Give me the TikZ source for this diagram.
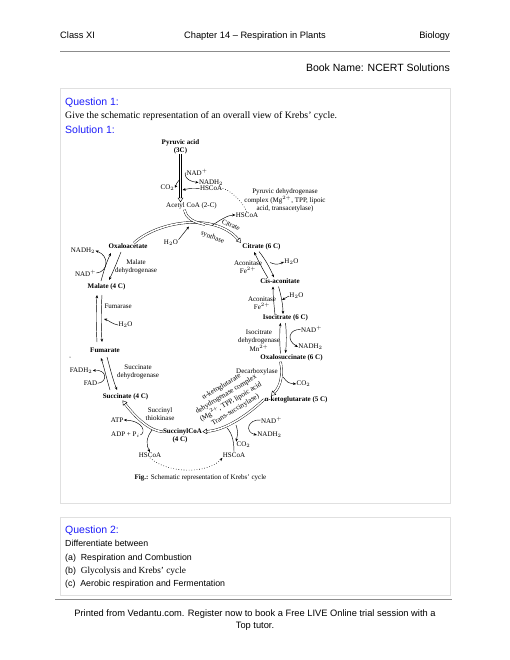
\documentclass[tikz,border=0pt]{standalone}
\usepackage{fontspec}
\setmainfont{Liberation Serif}
\setsansfont{Liberation Sans}
\usetikzlibrary{arrows.meta}
\definecolor{qblue}{RGB}{30,30,250}
\definecolor{boxline}{RGB}{224,224,224}
\definecolor{ruleline}{RGB}{140,140,140}

\begin{document}
\begin{tikzpicture}[x=1pt,y=-1pt,line width=0.45pt,>={Stealth[length=3.2pt,width=2.6pt]},
  lab/.style={inner sep=0.3pt,font=\fontsize{7}{7.8}\selectfont},
  cmp/.style={inner sep=0.3pt,font=\fontsize{7}{7.8}\selectfont\bfseries},
  hol/.style={double,double distance=1.6pt,line width=0.4pt,-{Triangle[open,length=4.5pt,width=5.5pt,line width=0.4pt]}},
  dbl/.style={double,double distance=1.6pt,line width=0.4pt},
  hdr/.style={inner sep=0pt,font=\sffamily\fontsize{9.3}{11}\selectfont},
  qhead/.style={inner sep=0pt,anchor=base west,text=qblue,font=\sffamily\fontsize{10.5}{12}\selectfont},
  qtext/.style={inner sep=0pt,anchor=base west,font=\sffamily\fontsize{8.8}{10}\selectfont}]
  \useasboundingbox[fill=white] (0,0) rectangle (510,660);

  % page header
  \node[hdr,anchor=base west] (cls) at (60,39) {Class XI};
  \node[hdr,anchor=base] (chap) at (255,39) {Chapter 14 -- Respiration in Plants};
  \node[hdr,anchor=base east] (subj) at (450,39) {Biology};
  \draw[ruleline,line width=0.9pt] (60,51.7) -- (450,51.7);
  \node[inner sep=0pt,anchor=base east,font=\sffamily\fontsize{10.5}{12}\selectfont] (book) at (450,71.5) {Book Name: NCERT Solutions};

  % question 1 box
  \draw[boxline,line width=0.8pt] (60.5,88.3) rectangle (450.5,503);
  \node[qhead] (q1) at (65,105.5) {Question 1:};
  \node[inner sep=0pt,anchor=base west,font=\fontsize{9.8}{11}\selectfont] (q1t) at (65,118.8) {Give the schematic representation of an overall view of Krebs' cycle.};
  \node[qhead] (s1) at (65,133.2) {Solution 1:};

  % link reaction
  \node[cmp,align=center] (pyr) at (180.5,146.5) {Pyruvic acid\\(3C)};
  \node[lab] (nad1) at (197,172.5) {NAD$^+$};
  \node[lab,anchor=west] (nadh1) at (198.5,182.5) {NADH$_2$};
  \node[lab,anchor=west] (hs1) at (199.5,188.5) {HSCoA};
  \node[lab] (co1) at (167.5,188) {CO$_2$};
  \node[lab] (acoa) at (191.5,206) {Acetyl CoA (2-C)};
  \node[lab,align=center] (pdh) at (285,200.5) {Pyruvic dehydrogenase\\complex (Mg$^{2+}$, TPP, lipoic\\acid, transacetylase)};
  \node[lab] (hs2) at (247,215) {HSCoA};
  \coordinate (jco) at (180,179);
  \coordinate (jhs) at (182.5,190);
  \draw[hol] (pyr.south) -- (pyr.south |- acoa.north);
  \draw[->] (nad1.west) .. controls (184,172) and (184,181) .. (nadh1.west);
  \draw[->] (hs1.west) .. controls (192,188) .. (jhs);
  \draw[->] (jco) .. controls (177,183) and (175,185) .. (co1.north east);
  \draw[dotted,line width=0.6pt] (hs1.east) .. controls (228,189) and (242,200) .. (hs2.north);

  % cycle compounds
  \node[cmp] (oaa) at (128,246) {Oxaloacetate};
  \node[cmp] (cit) at (261.5,246.5) {Citrate (6 C)};
  \node[cmp] (cis) at (280,281) {Cis-aconitate};
  \node[cmp] (iso) at (285.5,318) {Isocitrate (6 C)};
  \node[cmp] (oxs) at (291.5,358) {Oxalosuccinate (6 C)};
  \node[cmp] (akg) at (296,399.5) {α-ketoglutarate (5 C)};
  \node[cmp] (scoa) at (182.5,431.7) {SuccinylCoA};
  \node[cmp] (scoab) at (180,440) {(4 C)};
  \node[cmp] (suc) at (125.5,396.7) {Succinate (4 C)};
  \node[cmp] (fum) at (105,350.7) {Fumarate};
  \node[cmp] (mal) at (106.5,287.3) {Malate (4 C)};

  % citrate synthase
  \node[lab] (wA) at (171,243) {H$_2$O};
  \node[lab,rotate=-25] (cs1) at (231,225) {Citrate};
  \node[lab,rotate=-20] (cs2) at (212.5,237.5) {synthase};
  \coordinate (jac) at (205,224.5);
  \coordinate (jw) at (189,226.5);
  \coordinate (jcs) at (212,225.5);
  \draw[hol] ([xshift=-14pt]oaa.north east) .. controls (158,221) and (215,212) .. ([xshift=-1pt]cit.north west);
  \draw[dbl] ([xshift=-7pt]acoa.south) .. controls (186,219) and (195,222.5) .. (jac);
  \draw[->] (wA.north east) -- (jw);
  \draw[->] (jcs) .. controls (220,220) and (228,215) .. (hs2.west);

  % malate dehydrogenase
  \node[lab] (nadhB) at (83,250.7) {NADH$_2$};
  \node[lab] (nadB) at (85.5,273) {NAD$^+$};
  \node[lab,align=center] (mdh) at (136,267) {Malate\\dehydrogenase};
  \coordinate (ma1) at (101,281);
  \coordinate (ma2) at (111,253);
  \coordinate (ma3) at (121,252);
  \coordinate (ma4) at (109,280);
  \draw[->] (ma1) .. controls (104,270) and (107,261) .. (ma2);
  \draw[->] (ma3) .. controls (117,262) and (113,272) .. (ma4);
  \draw[->] (nadB.east) .. controls (108,272) and (110,256) .. (nadhB.east);

  % fumarase
  \node[lab,anchor=west] (fumase) at (104,306) {Fumarase};
  \node[lab,anchor=west] (wD) at (118,325) {H$_2$O};
  \coordinate (mf1) at (97,342);
  \coordinate (mf2) at (97,295);
  \coordinate (mf3) at (102,295);
  \coordinate (mf4) at (102,342);
  \coordinate (jw2) at (104,319);
  \draw[->] (mf1) .. controls (96,325) and (96,310) .. (mf2);
  \draw[->] (mf3) .. controls (101,310) and (101,325) .. (mf4);
  \draw[->] (wD.west) .. controls (112,324) and (108,320) .. (jw2);
  \fill (70,357) circle (0.5);

  % succinate dehydrogenase
  \node[lab] (fadh) at (81,370.7) {FADH$_2$};
  \node[lab] (fad) at (90.5,383.3) {FAD};
  \node[lab,align=center] (sdh) at (138,372) {Succinate\\dehydrogenase};
  \coordinate (fs1) at (110,390);
  \coordinate (fs2) at (101,358);
  \coordinate (fs3) at (107,357);
  \coordinate (fs4) at (117,390);
  \draw[->] (fs1) .. controls (107,380) and (104,367) .. (fs2);
  \draw[->] (fs3) .. controls (110,368) and (113,380) .. (fs4);
  \draw[->] (fad.east) .. controls (108,382) and (107,369) .. (fadh.east);

  % succinyl thiokinase
  \node[lab] (atp) at (117,420) {ATP};
  \node[lab] (adp) at (125.5,435) {ADP + P$_i$};
  \node[lab,align=center] (stk) at (160,414) {Succinyl\\thiokinase};
  \node[lab] (hsE) at (150,455) {HSCoA};
  \coordinate (jsh) at (152,430);
  \draw[hol] (scoa.west) .. controls (150,431) and (136,418) .. ([xshift=-3pt]suc.south);
  \draw[->] (adp.east) .. controls (146,433) and (144,421) .. (atp.east);
  \draw[->] (jsh) .. controls (146,438) and (146,445) .. (hsE.north);

  % alpha-ketoglutarate dehydrogenase
  \node[lab,rotate=31,align=center,font=\fontsize{7.2}{9}\selectfont] (akgdh) at (228.5,398.4) {α-ketoglutarate\\dehydrogenase complex\\(Mg$^{2+}$, TPP, lipoic acid\\Trans-succinylase)};
  \node[lab] (nadD) at (271.5,420) {NAD$^+$};
  \node[lab] (nadhD) at (269.5,435) {NADH$_2$};
  \node[lab] (coC) at (243.5,445) {CO$_2$};
  \node[lab] (hsD) at (234,455) {HSCoA};
  \coordinate (jco2) at (236,425);
  \coordinate (jhs2) at (227,428);
  \draw[hol] (akg.west) .. controls (252,411) and (228,430) .. (scoa.east);
  \draw[->] (nadD.west) .. controls (248,419) and (244,432) .. (nadhD.west);
  \draw[->] (jco2) .. controls (238,432) .. (coC.north west);
  \draw (jhs2) .. controls (233,434) and (234,444) .. (hsD.north);
  \draw[dotted,line width=0.6pt,->] (hsE.south) .. controls (168,474) and (208,474) .. (hsD.south west);

  % aconitase and isocitrate dehydrogenase
  \node[lab,align=center] (aco1) at (248,267.5) {Aconitase\\Fe$^{2+}$};
  \node[lab] (wB) at (291.5,262) {H$_2$O};
  \node[lab,align=center] (aco2) at (262,303.5) {Aconitase\\Fe$^{2+}$};
  \node[lab] (wC) at (296.5,296) {H$_2$O};
  \node[lab] (nadC) at (311.5,329.5) {NAD$^+$};
  \node[lab] (nadhC) at (310.5,347) {NADH$_2$};
  \node[lab,align=center] (idh) at (259,341) {Isocitrate\\dehydrogenase\\Mn$^{2+}$};
  \node[lab] (dcx) at (257,371.5) {Decarboxylase};
  \node[lab] (coB) at (303.5,384) {CO$_2$};
  \coordinate (cc1) at (268,278);
  \coordinate (cc2) at (254,252);
  \coordinate (cc3) at (259,251.5);
  \coordinate (cc4) at (274,277.5);
  \coordinate (jw3) at (270,262.5);
  \coordinate (ci1) at (275,315);
  \coordinate (ci2) at (273,286.5);
  \coordinate (ci3) at (278.5,286.5);
  \coordinate (ci4) at (283,314);
  \coordinate (jw4) at (282,300);
  \coordinate (io1) at (280.5,353.5);
  \coordinate (io2) at (280.5,323);
  \coordinate (io3) at (285.5,323);
  \coordinate (io4) at (285.5,353);
  \coordinate (jco3) at (283,377);
  \draw[->] (cc1) .. controls (263,270) and (258,260) .. (cc2);
  \draw[->] (cc3) .. controls (265,259) and (270,268) .. (cc4);
  \draw[->] (jw3) .. controls (278,266) and (281,263) .. (wB.west);
  \draw[->] (ci1) .. controls (274,305) and (273,295) .. (ci2);
  \draw[->] (ci3) .. controls (281,295) and (283,305) .. (ci4);
  \draw[->] (wC.west) .. controls (287,297) .. (jw4);
  \draw[->] (io1) .. controls (279.5,343) and (279.5,332) .. (io2);
  \draw[->] (io3) .. controls (286.5,332) and (286.5,343) .. (io4);
  \draw[->] (nadC.west) .. controls (289,329) and (286,340) .. (nadhC.west);
  \draw[hol] ([xshift=-11pt]oxs.south) .. controls (283,374) and (281,386) .. ([xshift=-25pt]akg.north);
  \draw[->] (jco3) .. controls (288,383) .. (coB.west);

  \node[lab] (cap) at (200.5,478) {\textbf{Fig.:} Schematic representation of Krebs' cycle};

  % question 2 box
  \draw[boxline,line width=0.8pt] (60.7,517) rectangle (450.7,595);
  \node[qhead] (q2) at (65,533.5) {Question 2:};
  \node[qtext] (dif) at (65,546.5) {Differentiate between};
  \node[qtext] (qa) at (65,560) {(a)\ \ Respiration and Combustion};
  \node[qtext] (qb) at (65,573.3) {(b)\ \ {\rmfamily\fontsize{9.3}{10}\selectfont Glycolysis and Krebs' cycle}};
  \node[qtext] (qc) at (65,586.6) {(c)\ \ Aerobic respiration and Fermentation};

  % footer
  \draw[ruleline,line width=0.9pt] (55.3,599.3) -- (451.7,599.3);
  \node[inner sep=0pt,anchor=base,font=\sffamily\fontsize{9.3}{11}\selectfont] (foot1) at (255,616) {Printed from Vedantu.com. Register now to book a Free LIVE Online trial session with a};
  \node[inner sep=0pt,anchor=base,font=\sffamily\fontsize{9.3}{11}\selectfont] (foot2) at (255,628.5) {Top tutor.};
\end{tikzpicture}
\end{document}
